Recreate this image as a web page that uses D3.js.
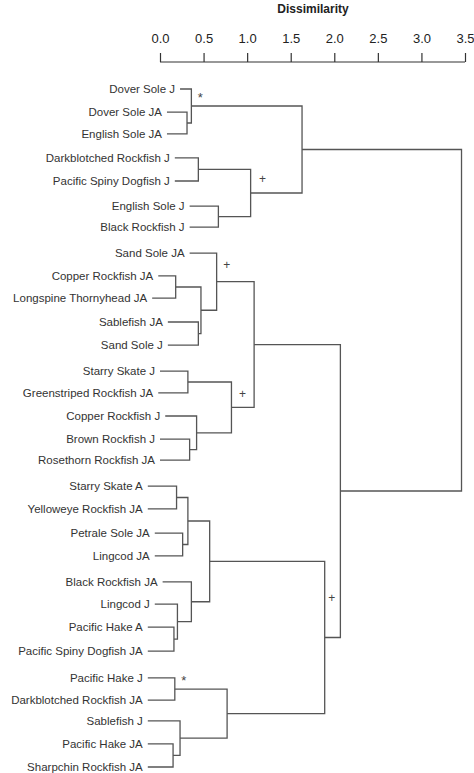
<!DOCTYPE html>
<html>
<head>
<meta charset="utf-8">
<script src="https://cdn.jsdelivr.net/npm/d3@7"></script>
<style>
  body { margin: 0; background: #fff; }
  svg text { font-family: "Liberation Sans", Arial, sans-serif; }
</style>
</head>
<body>
<svg width="474" height="773"></svg>
<script>
// leaves, top to bottom
var leafNames = [
  "Dover Sole J", "Dover Sole JA", "English Sole JA", "Darkblotched Rockfish J",
  "Pacific Spiny Dogfish J", "English Sole J", "Black Rockfish J", "Sand Sole JA",
  "Copper Rockfish JA", "Longspine Thornyhead JA", "Sablefish JA", "Sand Sole J",
  "Starry Skate J", "Greenstriped Rockfish JA", "Copper Rockfish J", "Brown Rockfish J",
  "Rosethorn Rockfish JA", "Starry Skate A", "Yelloweye Rockfish JA", "Petrale Sole JA",
  "Lingcod JA", "Black Rockfish JA", "Lingcod J", "Pacific Hake A",
  "Pacific Spiny Dogfish JA", "Pacific Hake J", "Darkblotched Rockfish JA", "Sablefish J",
  "Pacific Hake JA", "Sharpchin Rockfish JA"
];
// row position of each leaf (rows, with small gaps between groups)
var leafRows = [0, 1.02, 1.99, 3.05, 4.07, 5.18, 6.11, 7.26, 8.27, 9.25, 10.31, 11.33,
  12.48, 13.45, 14.47, 15.49, 16.42, 17.57, 18.58, 19.65, 20.66, 21.81, 22.79, 23.81,
  24.87, 26.06, 27.04, 27.96, 28.98, 30];
// dissimilarity where each leaf's stem starts
var leafStart = [0.23, 0.08, 0.08, 0.17, 0.17, 0.34, 0.34, 0.34, -0.02, -0.09, 0.09, 0.09,
  0.0, -0.02, 0.06, 0.0, 0.0, -0.14, -0.14, -0.06, -0.06, 0.03, -0.06, -0.14,
  -0.14, -0.14, -0.14, -0.14, -0.14, -0.14];

// merges: [id, child, child, dissimilarity]
var merges = [
  ["a1", "Dover Sole JA", "English Sole JA", 0.31],
  ["a2", "Dover Sole J", "a1", 0.36],
  ["a3", "Darkblotched Rockfish J", "Pacific Spiny Dogfish J", 0.44],
  ["a4", "English Sole J", "Black Rockfish J", 0.67],
  ["a5", "a3", "a4", 1.04],
  ["a6", "a2", "a5", 1.63],
  ["b1", "Copper Rockfish JA", "Longspine Thornyhead JA", 0.18],
  ["b2", "Sablefish JA", "Sand Sole J", 0.44],
  ["b3", "b1", "b2", 0.47],
  ["b4", "Sand Sole JA", "b3", 0.65],
  ["b5", "Starry Skate J", "Greenstriped Rockfish JA", 0.32],
  ["b6", "Brown Rockfish J", "Rosethorn Rockfish JA", 0.34],
  ["b7", "Copper Rockfish J", "b6", 0.42],
  ["b8", "b5", "b7", 0.82],
  ["b9", "b4", "b8", 1.08],
  ["c1", "Starry Skate A", "Yelloweye Rockfish JA", 0.19],
  ["c2", "Petrale Sole JA", "Lingcod JA", 0.26],
  ["c3", "c1", "c2", 0.32],
  ["c4", "Pacific Hake A", "Pacific Spiny Dogfish JA", 0.16],
  ["c5", "Lingcod J", "c4", 0.20],
  ["c6", "Black Rockfish JA", "c5", 0.36],
  ["c7", "c3", "c6", 0.57],
  ["c8", "Pacific Hake J", "Darkblotched Rockfish JA", 0.17],
  ["c9", "Pacific Hake JA", "Sharpchin Rockfish JA", 0.15],
  ["c10", "Sablefish J", "c9", 0.23],
  ["c11", "c8", "c10", 0.77],
  ["c12", "c7", "c11", 1.89],
  ["r1", "b9", "c12", 2.07],
  ["root", "a6", "r1", 3.46]
];

// significance marks: [node, symbol]
var marks = [["a2", "*"], ["a5", "+"], ["b4", "+"], ["b8", "+"], ["c12", "+"], ["c8", "*"]];
var markOffset = { a2: [9, -9], a5: [12, -14], b4: [10, -17], b8: [11, -14], c12: [7, -40], c8: [9, -9] };

var ticks = [0, 0.5, 1, 1.5, 2, 2.5, 3, 3.5];

var svg = d3.select("svg");
var x = d3.scaleLinear().domain([0, 3.5]).range([160, 465]);
var y = d3.scaleLinear().domain([0, 30]).range([89, 767]);

// build nested tree
var nodes = {};
leafNames.forEach(function (n, i) {
  nodes[n] = { name: n, height: leafStart[i], row: leafRows[i], leaf: true };
});
merges.forEach(function (m) {
  nodes[m[0]] = { name: m[0], height: m[3], children: [nodes[m[1]], nodes[m[2]]] };
});
var root = d3.hierarchy(nodes.root);
root.eachAfter(function (d) {
  d.py = d.children ? d3.mean(d.children, function (c) { return c.py; }) : y(d.data.row);
});

var g = svg.append("g");
root.descendants().forEach(function (d) {
  if (!d.children) return;
  var hx = x(d.data.height);
  var c0 = d.children[0], c1 = d.children[1];
  g.append("path")
    .attr("d", "M" + x(c0.data.height) + "," + c0.py + "H" + hx + "V" + c1.py + "H" + x(c1.data.height))
    .attr("fill", "none")
    .attr("stroke", "#555")
    .attr("stroke-width", 1.3);
});

// leaf labels
root.leaves().forEach(function (d) {
  g.append("text")
    .attr("x", x(d.data.height) - 5)
    .attr("y", d.py)
    .attr("dy", "0.35em")
    .attr("text-anchor", "end")
    .attr("font-size", 11.5)
    .attr("fill", "#333")
    .text(d.data.name);
});

// marks
var byName = {};
root.descendants().forEach(function (d) { byName[d.data.name] = d; });
marks.forEach(function (m) {
  var d = byName[m[0]], o = markOffset[m[0]];
  svg.append("text")
    .attr("x", x(d.data.height) + o[0])
    .attr("y", d.py + o[1])
    .attr("dy", "0.35em")
    .attr("text-anchor", "middle")
    .attr("font-size", m[1] == "*" ? 13 : 12)
    .attr("fill", "#444")
    .text(m[1]);
});

// axis
var axis = svg.append("g")
  .attr("transform", "translate(0,62)")
  .call(d3.axisTop(x).tickValues(ticks).tickSize(9).tickPadding(10)
    .tickFormat(d3.format(".1f")));
axis.selectAll("path, line").attr("stroke", "#333").attr("stroke-width", 1.2);
axis.select(".domain").attr("d", "M" + x(0) + ",0H" + x(3.5));
axis.selectAll("text").attr("font-size", 13).attr("fill", "#222")
  .style("font-family", "Liberation Sans, Arial, sans-serif");

svg.append("text")
  .attr("x", 313)
  .attr("y", 13)
  .attr("text-anchor", "middle")
  .attr("font-size", 12)
  .attr("font-weight", "bold")
  .attr("fill", "#222")
  .text("Dissimilarity");
</script>
</body>
</html>
